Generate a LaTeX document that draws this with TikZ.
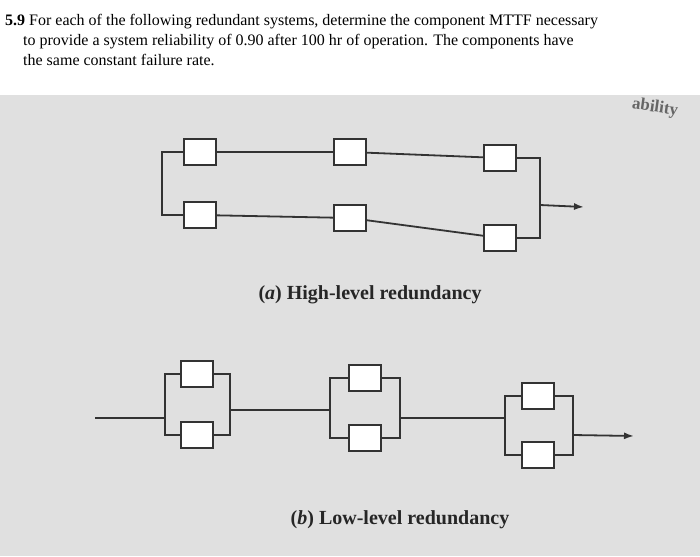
\documentclass[tikz,border=0pt]{standalone}
\usepackage{fontspec}
\setmainfont{Liberation Serif}
\usetikzlibrary{arrows.meta}
\begin{document}
\begin{tikzpicture}[x=1pt,y=-1pt,
  comp/.style={draw=black!80,line width=1.8pt,fill=white,minimum width=32pt,minimum height=26pt,inner sep=0pt},
  wire/.style={draw=black!80,line width=1.8pt},
  outarrow/.style={wire,-{Latex[length=10pt,width=7pt]}},
  captext/.style={font=\fontsize{20}{24}\selectfont\bfseries,text=black!85}]
\useasboundingbox (0,0) rectangle (700,556);
\fill[white] (0,0) rectangle (700,95);
\fill[black!12] (0,95) rectangle (700,556);
\node[anchor=north west,align=left,font=\fontsize{16}{20}\selectfont,inner sep=0pt] (title) at (5,14)
 {\textbf{5.9} For each of the following redundant systems, determine the component MTTF necessary\\
 \hspace{18pt}to provide a system reliability of 0.90 after 100 hr of operation. The components have\\
 \hspace{18pt}the same constant failure rate.};
\node[font=\fontsize{17}{18}\selectfont\bfseries,text=black!60,rotate=-8] (rel) at (655,108) {ability};
% (a)
\node[comp] (a1) at (200,152) {};
\node[comp] (a2) at (350,152) {};
\node[comp] (a3) at (500,158) {};
\node[comp] (a4) at (200,215) {};
\node[comp] (a5) at (350,218) {};
\node[comp] (a6) at (500,238) {};
\coordinate (la) at (162,152); \coordinate (lb) at (162,215);
\coordinate (ra) at (540,158); \coordinate (rb) at (540,238);
\coordinate (ro) at (540,205); \coordinate (out) at (584,207);
\draw[wire] (a1.west) -- (la) -- (lb) -- (a4.west);
\draw[wire] (a1) -- (a2) -- (a3) -- (ra) -- (rb) -- (a6);
\draw[wire] (a4) -- (a5) -- (a6);
\draw[outarrow] (ro) -- (out);
\node[captext] (capa) at (370,295) {(\textit{a}) High-level redundancy};
% (b)
\node[comp] (b1) at (197,374) {}; \node[comp] (b2) at (197,435) {};
\node[comp] (b3) at (365,378) {}; \node[comp] (b4) at (365,438) {};
\node[comp] (b5) at (538,396) {}; \node[comp] (b6) at (538,455) {};
\coordinate (in) at (95,418);
\coordinate (p1l) at (165,418); \coordinate (p1r) at (230,410);
\coordinate (p2l) at (330,410); \coordinate (p2r) at (400,418);
\coordinate (p3l) at (505,418); \coordinate (p3r) at (573,435);
\coordinate (outb) at (634,436);
\draw[wire] (in) -- (p1l);
\draw[wire] (b1) -- (p1l|-b1) -- (p1l|-b2) -- (b2);
\draw[wire] (b1) -- (p1r|-b1) -- (p1r|-b2) -- (b2);
\draw[wire] (p1r) -- (p2l);
\draw[wire] (b3) -- (p2l|-b3) -- (p2l|-b4) -- (b4);
\draw[wire] (b3) -- (p2r|-b3) -- (p2r|-b4) -- (b4);
\draw[wire] (p2r) -- (p3l);
\draw[wire] (b5) -- (p3l|-b5) -- (p3l|-b6) -- (b6);
\draw[wire] (b5) -- (p3r|-b5) -- (p3r|-b6) -- (b6);
\draw[outarrow] (p3r) -- (outb);
\node[captext] (capb) at (400,520) {(\textit{b}) Low-level redundancy};
\end{tikzpicture}
\end{document}
